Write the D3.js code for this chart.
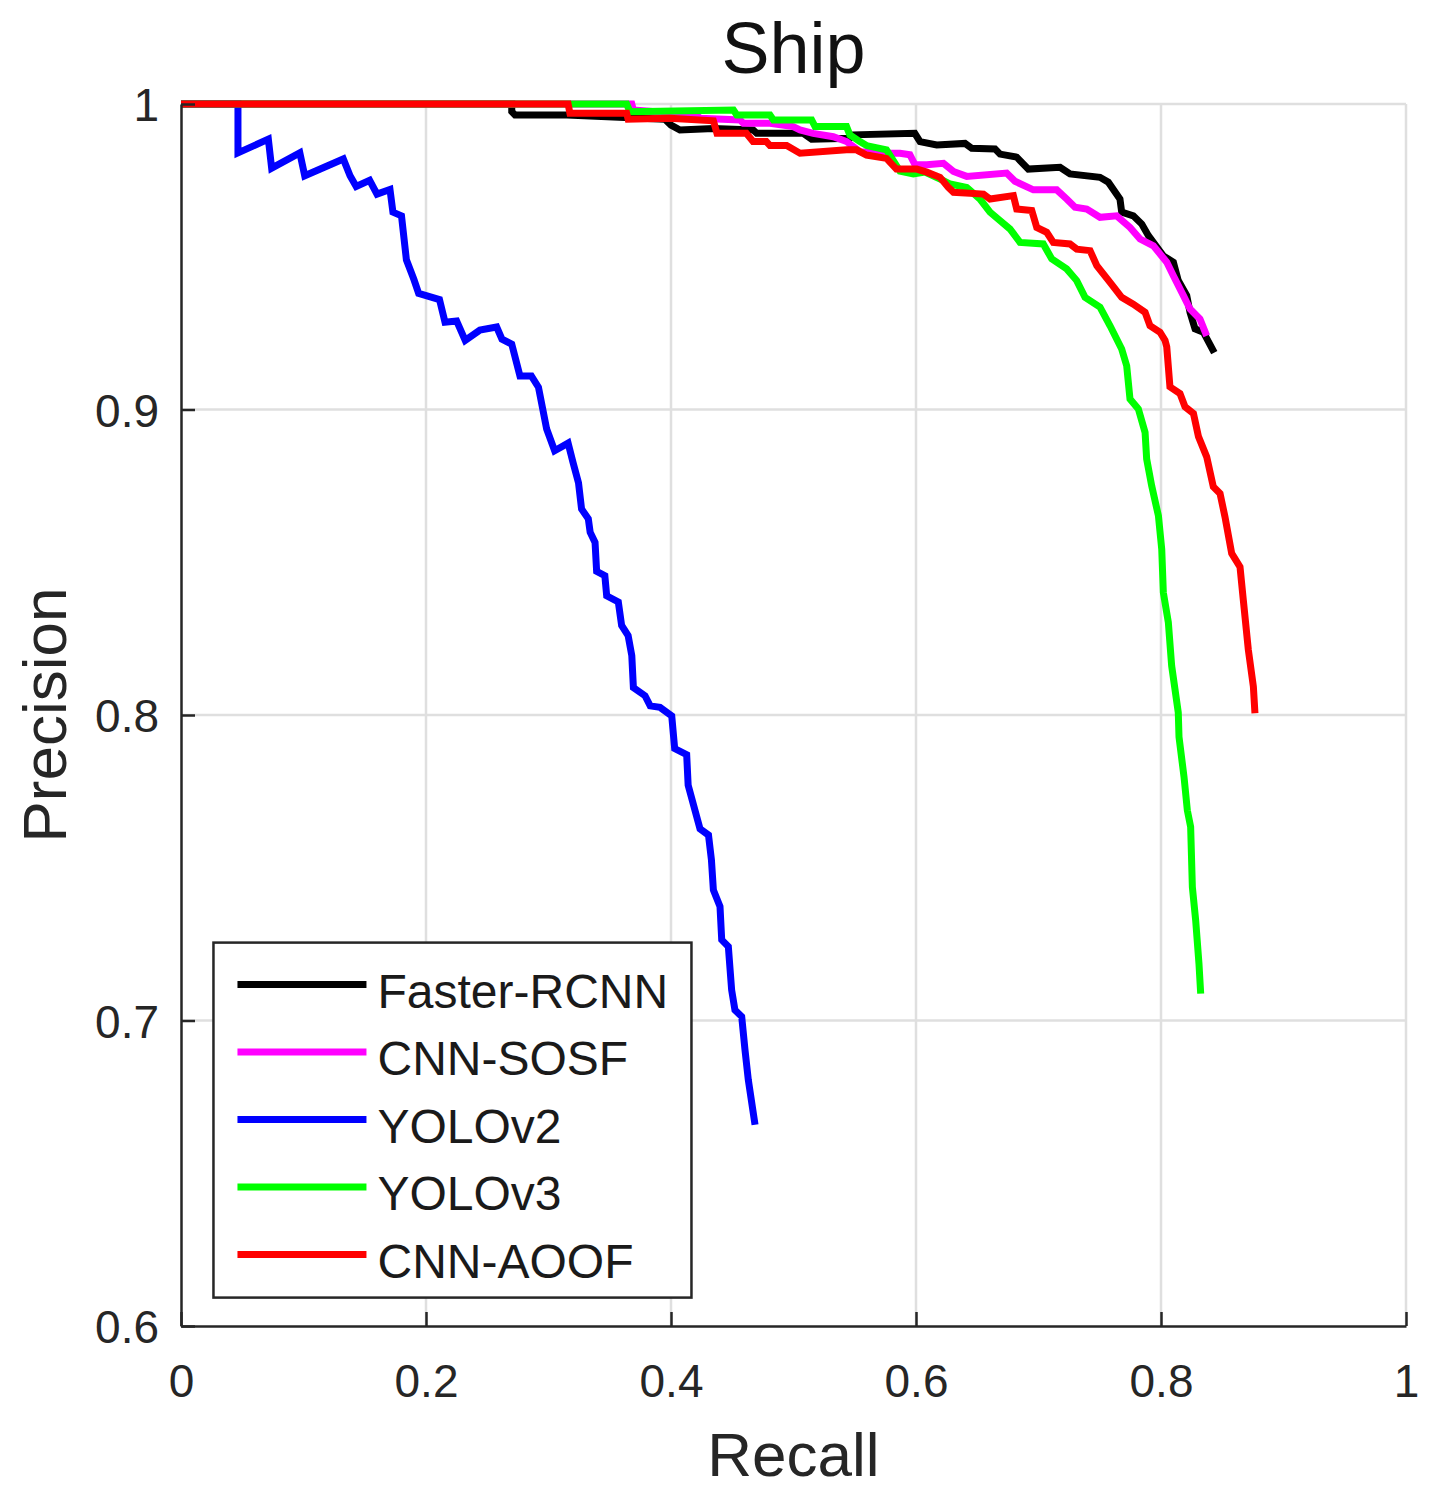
<!DOCTYPE html>
<html>
<head>
<meta charset="utf-8">
<script src="https://d3js.org/d3.v7.min.js"></script>
<style>
  body { margin: 0; background: #fff; }
  svg { display: block; font-family: "Liberation Sans", Arial, sans-serif; }
  .grid line { stroke: #dfdfdf; stroke-width: 2.5; }
  .axis path, .axis line { stroke: #262626; stroke-width: 2.5; }
  .axis text { fill: #262626; font-size: 46px; }
  .chart-line { fill: none; stroke-width: 7; stroke-linejoin: miter; }
</style>
</head>
<body>
<svg id="chart"></svg>
<script>
// tick labels
const xTicks = [0, 0.2, 0.4, 0.6, 0.8, 1];
const yTicks = [0.6, 0.7, 0.8, 0.9, 1];

const seriesNames = ['Faster-RCNN', 'CNN-SOSF', 'YOLOv2', 'YOLOv3', 'CNN-AOOF'];
const seriesColors = ['#000000', '#ff00ff', '#0000ff', '#00ff00', '#ff0000'];

// [recall, precision]
const fasterRcnn = [[0,1],[0.27,1],[0.27,0.9975],[0.2727,0.9964],[0.315,0.9964],[0.395,0.995],[0.40,0.9931],[0.4073,0.9915],
  [0.4346,0.992],[0.467,0.9915],[0.47,0.9904],[0.508,0.9904],[0.5148,0.9885],[0.546,0.9888],[0.549,0.9899],[0.599,0.9904],
  [0.6033,0.9877],[0.6169,0.9866],[0.64,0.9871],[0.6455,0.9855],[0.6645,0.9853],[0.6686,0.9836],[0.6822,0.9826],[0.6917,0.9787],
  [0.7176,0.9793],[0.7257,0.9771],[0.7502,0.976],[0.757,0.9744],[0.7665,0.9689],[0.7679,0.9646],[0.7774,0.9634],[0.7843,0.9607],
  [0.7897,0.9569],[0.8019,0.9503],[0.8101,0.9482],[0.8141,0.9422],[0.821,0.9373],[0.8237,0.9318],[0.8278,0.9264],[0.8346,0.9253],
  [0.8435,0.9186]];

const cnnSosf = [[0,1],[0.368,1],[0.3693,0.998],[0.4208,0.9964],[0.4237,0.9953],[0.4563,0.9948],[0.459,0.9937],[0.4808,0.9937],
  [0.4997,0.9926],[0.5053,0.9915],[0.516,0.9904],[0.5325,0.9893],[0.5433,0.9877],[0.5542,0.9844],[0.5733,0.9839],[0.5869,0.9839],
  [0.595,0.9834],[0.5992,0.9801],[0.6088,0.9801],[0.6224,0.9806],[0.6306,0.9779],[0.6414,0.9763],[0.674,0.9774],[0.6808,0.9747],
  [0.6958,0.9719],[0.7149,0.9719],[0.723,0.9689],[0.7298,0.9662],[0.7394,0.9656],[0.7502,0.9629],[0.7638,0.9634],[0.7747,0.9596],
  [0.7829,0.9558],[0.7938,0.9536],[0.8047,0.9482],[0.8101,0.9438],[0.8183,0.9373],[0.8237,0.9329],[0.8318,0.9296],[0.8373,0.9241]];

const yolov2 = [[0,1],[0.0465,1],[0.0465,0.984],[0.0713,0.9885],[0.074,0.979],[0.097,0.984],[0.101,0.9765],[0.1325,0.982],
  [0.138,0.9765],[0.143,0.973],[0.154,0.975],[0.16,0.9705],[0.1706,0.972],[0.173,0.9646],[0.18,0.9634],[0.184,0.949],
  [0.19,0.9427],[0.194,0.938],[0.211,0.936],[0.2155,0.9286],[0.225,0.929],[0.232,0.9226],[0.244,0.926],[0.2577,0.927],
  [0.262,0.923],[0.27,0.9214],[0.2767,0.911],[0.286,0.911],[0.2918,0.9073],[0.2985,0.8936],[0.305,0.8865],[0.316,0.889],
  [0.32,0.8827],[0.3245,0.876],[0.327,0.8674],[0.3325,0.8642],[0.334,0.8598],[0.338,0.8565],[0.3393,0.847],[0.346,0.8456],
  [0.3475,0.839],[0.357,0.837],[0.3597,0.8293],[0.365,0.826],[0.368,0.8194],[0.3693,0.809],[0.3788,0.8063],[0.383,0.803],
  [0.391,0.8025],[0.4006,0.7997],[0.403,0.789],[0.4128,0.787],[0.414,0.777],[0.4237,0.7627],[0.4306,0.7607],[0.433,0.7526],
  [0.4346,0.7427],[0.44,0.7373],[0.4414,0.7264],[0.4468,0.7242],[0.4495,0.71],[0.4522,0.7034],[0.4577,0.7013],[0.4604,0.6904],
  [0.4631,0.6806],[0.4686,0.6659]];

const yolov3 = [[0,1],[0.3638,1],[0.3665,0.9975],[0.451,0.998],[0.4537,0.9964],[0.4808,0.9964],[0.4836,0.9948],[0.5148,0.9948],
  [0.5176,0.9926],[0.5433,0.9926],[0.546,0.9899],[0.5542,0.9877],[0.5596,0.9864],[0.5759,0.985],[0.5869,0.978],[0.5978,0.9771],
  [0.6073,0.9777],[0.6224,0.9749],[0.6278,0.9738],[0.6414,0.9727],[0.6522,0.9689],[0.6604,0.9646],[0.6686,0.9618],[0.6767,0.9591],
  [0.6849,0.9547],[0.7039,0.9542],[0.7108,0.9493],[0.723,0.946],[0.7312,0.9422],[0.738,0.9367],[0.7502,0.9335],[0.7584,0.9274],
  [0.7679,0.9198],[0.772,0.9143],[0.7747,0.9034],[0.7815,0.9002],[0.787,0.8925],[0.7883,0.8838],[0.7924,0.875],[0.7979,0.8652],
  [0.8006,0.8543],[0.8019,0.8401],[0.806,0.8303],[0.8087,0.8161],[0.8141,0.8008],[0.8147,0.7928],[0.8188,0.7797],[0.8215,0.7688],
  [0.8242,0.7634],[0.8256,0.7437],[0.8283,0.7328],[0.831,0.7186],[0.8324,0.7088]];

const cnnAoof = [[0,1],[0.316,1],[0.3175,0.997],[0.3638,0.997],[0.365,0.995],[0.399,0.9953],[0.4346,0.9945],[0.4375,0.9904],
  [0.4615,0.9904],[0.467,0.9877],[0.4778,0.9877],[0.4808,0.9864],[0.4944,0.9864],[0.5053,0.9839],[0.5433,0.985],[0.5514,0.985],
  [0.5596,0.9833],[0.5759,0.9822],[0.584,0.9787],[0.6006,0.9787],[0.6088,0.9777],[0.6196,0.976],[0.6264,0.9727],[0.6306,0.9711],
  [0.6551,0.9705],[0.6604,0.9689],[0.6795,0.97],[0.6822,0.9656],[0.6945,0.9651],[0.6986,0.9596],[0.7067,0.958],[0.7121,0.9547],
  [0.7257,0.9542],[0.7312,0.9525],[0.7421,0.952],[0.7476,0.9471],[0.7584,0.9416],[0.7679,0.9367],[0.7774,0.9345],[0.787,0.9318],
  [0.791,0.9274],[0.7992,0.9253],[0.8033,0.9226],[0.8047,0.9205],[0.8073,0.9074],[0.8155,0.9052],[0.8196,0.9009],[0.8265,0.8987],
  [0.8306,0.8911],[0.8373,0.8845],[0.8427,0.8747],[0.8482,0.8725],[0.8522,0.8649],[0.8577,0.8529],[0.8645,0.8485],[0.8672,0.8376],
  [0.8713,0.8213],[0.8754,0.8093],[0.8767,0.8006]];

const seriesData = [fasterRcnn, cnnSosf, yolov2, yolov3, cnnAoof];

class PRChart {
  constructor(_config) {
    this.config = {
      parentElement: _config.parentElement,
      containerWidth: _config.containerWidth || 1450,
      containerHeight: _config.containerHeight || 1503,
      margin: _config.margin || {top: 104, right: 44, bottom: 177, left: 181}
    };
    this.initVis();
  }

  initVis() {
    let vis = this;
    vis.width = vis.config.containerWidth - vis.config.margin.left - vis.config.margin.right;
    vis.height = vis.config.containerHeight - vis.config.margin.top - vis.config.margin.bottom;

    vis.xScale = d3.scaleLinear().domain([0, 1]).range([0, vis.width]);
    vis.yScale = d3.scaleLinear().domain([0.6, 1]).range([vis.height, 0]);

    vis.svg = d3.select(vis.config.parentElement)
        .attr('width', vis.config.containerWidth)
        .attr('height', vis.config.containerHeight);

    vis.chart = vis.svg.append('g')
        .attr('transform', `translate(${vis.config.margin.left},${vis.config.margin.top})`);

    // grid lines first, so everything sits on top
    vis.grid = vis.chart.append('g').attr('class', 'grid');
    vis.grid.selectAll('.gx').data(xTicks.filter(d => d > 0)).join('line')
        .attr('class', 'gx')
        .attr('x1', d => vis.xScale(d)).attr('x2', d => vis.xScale(d))
        .attr('y1', 0).attr('y2', vis.height);
    vis.grid.selectAll('.gy').data(yTicks.filter(d => d > 0.6)).join('line')
        .attr('class', 'gy')
        .attr('x1', 0).attr('x2', vis.width)
        .attr('y1', d => vis.yScale(d)).attr('y2', d => vis.yScale(d));

    vis.marks = vis.chart.append('g');

    // inward ticks like matlab
    vis.xAxis = d3.axisBottom(vis.xScale)
        .tickValues(xTicks)
        .tickFormat(d3.format('~g'))
        .tickSizeInner(-14)
        .tickSizeOuter(0)
        .tickPadding(38);
    vis.yAxis = d3.axisLeft(vis.yScale)
        .tickValues(yTicks)
        .tickFormat(d3.format('~g'))
        .tickSizeInner(-14)
        .tickSizeOuter(0)
        .tickPadding(22);

    vis.xAxisG = vis.chart.append('g')
        .attr('class', 'axis x-axis')
        .attr('transform', `translate(0,${vis.height})`);
    vis.yAxisG = vis.chart.append('g')
        .attr('class', 'axis y-axis');

    // titles
    vis.svg.append('text')
        .attr('text-anchor', 'middle')
        .attr('x', vis.config.margin.left + vis.width / 2)
        .attr('y', 73)
        .attr('font-size', '72px')
        .attr('fill', '#111')
        .text('Ship');

    vis.svg.append('text')
        .attr('text-anchor', 'middle')
        .attr('x', vis.config.margin.left + vis.width / 2)
        .attr('y', 1476)
        .attr('font-size', '62px')
        .attr('fill', '#262626')
        .text('Recall');

    vis.svg.append('text')
        .attr('text-anchor', 'middle')
        .attr('transform', `translate(66,${vis.config.margin.top + vis.height / 2}) rotate(-90)`)
        .attr('font-size', '62px')
        .attr('fill', '#262626')
        .text('Precision');
  }

  updateVis() {
    let vis = this;
    vis.line = d3.line()
        .x(d => vis.xScale(d[0]))
        .y(d => vis.yScale(d[1]));
    vis.renderVis();
  }

  renderVis() {
    let vis = this;

    vis.marks.selectAll('.chart-line')
        .data(seriesData)
        .join('path')
        .attr('class', 'chart-line')
        .attr('stroke', (d, i) => seriesColors[i])
        .attr('d', vis.line);

    vis.xAxisG.call(vis.xAxis);
    vis.yAxisG.call(vis.yAxis);
    vis.yAxisG.selectAll('text').attr('dy', '0.36em');

    // legend
    const lg = vis.chart.append('g')
        .attr('transform', `translate(${vis.xScale(0.0265)},${vis.yScale(0.7255)})`);
    lg.append('rect')
        .attr('width', 478).attr('height', 355)
        .attr('fill', '#fff')
        .attr('stroke', '#262626')
        .attr('stroke-width', 2.5);
    const rows = lg.selectAll('.entry').data(seriesNames).join('g')
        .attr('class', 'entry')
        .attr('transform', (d, i) => `translate(0,${42 + i * 67.5})`);
    rows.append('line')
        .attr('x1', 24).attr('x2', 153)
        .attr('stroke', (d, i) => seriesColors[i])
        .attr('stroke-width', 7);
    rows.append('text')
        .attr('x', 164).attr('y', 23)
        .attr('font-size', '48px')
        .attr('fill', '#1a1a1a')
        .text(d => d);
  }
}

const prChart = new PRChart({ parentElement: '#chart' });
prChart.updateVis();
</script>
</body>
</html>
